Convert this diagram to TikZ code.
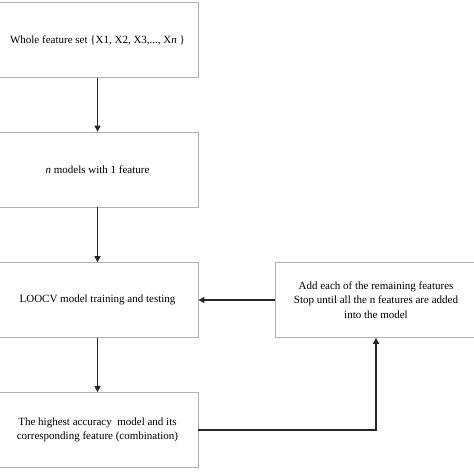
\documentclass[tikz,border=0pt]{standalone}
\usepackage{fontspec}
\setmainfont{Liberation Serif}
\usetikzlibrary{arrows.meta}
\begin{document}
\begin{tikzpicture}[x=1pt,y=-1pt,
  box/.style={draw=black!30, line width=0.8pt, fill=white, minimum width=201pt, minimum height=75pt, align=center, inner sep=2pt, font=\fontsize{11}{14.3}\selectfont},
  arr/.style={line width=1.1pt, draw=black!85, -{Triangle[length=6pt,width=6pt]}}]
\useasboundingbox (0,0) rectangle (474,474);
\begin{scope}
\clip (0,0) rectangle (474,474);
\node[box] (b1) at (97.5,40) {Whole feature set \{X1, X2, X3,..., X\textit{n} \}};
\node[box] (b2) at (97.5,169.5) {\textit{n} models with 1 feature};
\node[box] (b3) at (97.5,300) {LOOCV model training and testing};
\node[box] (b4) at (97.5,430) {The highest accuracy~ model and its\\corresponding feature (combination)};
\node[box] (b5) at (376,300) {Add each of the remaining features\\Stop until all the n features are added\\into the model};
\draw[arr] (b1) -- (b2);
\draw[arr] (b2) -- (b3);
\draw[arr] (b3) -- (b4);
\draw[arr] (b5) -- (b3);
\draw[arr] (b4.east) -| (b5.south);
\end{scope}
\end{tikzpicture}
\end{document}
